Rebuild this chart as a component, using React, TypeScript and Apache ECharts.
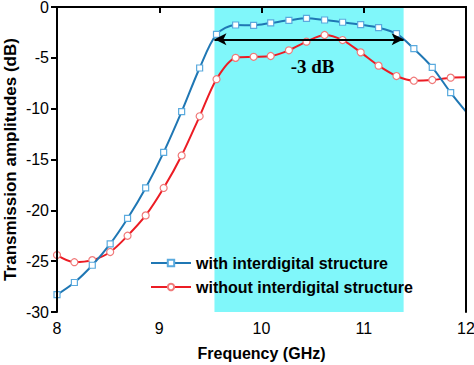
import React, { useEffect, useRef } from "react";
import * as echarts from "echarts";

const freqs = [8.0, 8.17, 8.345, 8.52, 8.69, 8.867, 9.043, 9.219, 9.395, 9.56, 9.747, 9.923, 10.09, 10.268, 10.44, 10.617, 10.793, 10.97, 11.145, 11.32, 11.49, 11.67, 11.85, 12.0];
const withStructure = [-28.3, -27.1, -25.4, -23.3, -20.8, -17.8, -14.3, -10.3, -6.0, -2.7, -1.77, -1.8, -1.57, -1.31, -1.11, -1.28, -1.5, -1.74, -2.03, -2.62, -4.1, -5.93, -8.43, -10.3];
const withoutStructure = [-24.4, -25.1, -24.9, -24.1, -22.5, -20.5, -17.8, -14.6, -10.75, -7.1, -5.0, -4.9, -4.82, -4.26, -3.41, -2.75, -3.25, -4.46, -5.77, -6.79, -7.25, -7.18, -6.95, -6.92];
const seriesNames = ["with interdigital structure", "without interdigital structure"];
const band = [9.54, 11.39];
const arrowLevel = -3.18;
const annotation = { text: "-3 dB", x: 10.5, y: -5.9 };
const xTicks = { min: 8, max: 12, interval: 1 };
const yTicks = { min: -30, max: 0, interval: 5 };

const SANS = "'Liberation Sans', Arial, sans-serif";
const SERIF = "'Liberation Serif', 'Times New Roman', serif";

function toData(ys: number[]) {
  return ys.map((y, i) => {
    const item: any = { value: [freqs[i], y] };
    if (i === ys.length - 1) item.symbol = "none";
    return item;
  });
}

export default function App() {
  const ref = useRef<HTMLDivElement>(null);
  useEffect(() => {
    if (!ref.current) return;
    const chart = echarts.init(ref.current, undefined, { renderer: "svg" });
    const axisLine = { show: true, lineStyle: { color: "#000", width: 2 } };
    chart.setOption({
      animation: false,
      backgroundColor: "#fff",
      grid: { left: 57, right: 8, top: 7, bottom: 53, containLabel: false, outerBoundsMode: "none" },
      legend: {
        orient: "vertical",
        left: 145,
        top: 250,
        itemWidth: 40,
        itemHeight: 8,
        itemGap: 8,
        textStyle: { fontFamily: SANS, fontWeight: "bold", fontSize: 16, color: "#000" },
        data: seriesNames,
      },
      xAxis: [
        {
          type: "value",
          min: xTicks.min,
          max: xTicks.max,
          interval: xTicks.interval,
          z: 5,
          axisLine,
          axisTick: { show: true, inside: false, length: 6, lineStyle: { color: "#000", width: 2 } },
          axisLabel: { color: "#000", fontFamily: SANS, fontSize: 16, margin: 8 },
          splitLine: { show: false },
          name: "Frequency (GHz)",
          nameLocation: "middle",
          nameGap: 33,
          nameMoveOverlap: false,
          nameTextStyle: { fontFamily: SANS, fontWeight: "bold", fontSize: 16, color: "#000" },
        },
        {
          type: "value",
          position: "top",
          min: xTicks.min,
          max: xTicks.max,
          z: 5,
          axisLine,
          axisTick: { show: false },
          axisLabel: { show: false },
          splitLine: { show: false },
        },
      ],
      yAxis: [
        {
          type: "value",
          min: yTicks.min,
          max: yTicks.max,
          interval: yTicks.interval,
          z: 5,
          axisLine,
          axisTick: { show: true, inside: false, length: 6, lineStyle: { color: "#000", width: 2 } },
          axisLabel: { color: "#000", fontFamily: SANS, fontSize: 16, margin: 8 },
          splitLine: { show: false },
          name: "Transmission amplitudes (dB)",
          nameLocation: "middle",
          nameRotate: 90,
          nameGap: 38,
          nameMoveOverlap: false,
          nameTextStyle: { fontFamily: SANS, fontWeight: "bold", fontSize: 17, lineHeight: 17, color: "#000" },
        },
        {
          type: "value",
          position: "right",
          min: yTicks.min,
          max: yTicks.max,
          z: 5,
          axisLine,
          axisTick: { show: false },
          axisLabel: { show: false },
          splitLine: { show: false },
        },
      ],
      series: [
        {
          name: seriesNames[0],
          type: "line",
          smooth: 0.3,
          data: toData(withStructure),
          symbol: "rect",
          symbolSize: 6,
          lineStyle: { color: "#1f77b4", width: 2 },
          itemStyle: { color: "#fff", borderColor: "#5aaade", borderWidth: 1.2 },
          z: 3,
          markArea: {
            silent: true,
            itemStyle: { color: "#80f7fa", opacity: 1 },
            data: [[{ xAxis: band[0] }, { xAxis: band[1] }]],
          },
        },
        {
          name: seriesNames[1],
          type: "line",
          smooth: 0.3,
          data: toData(withoutStructure),
          symbol: "circle",
          symbolSize: 7,
          lineStyle: { color: "#ec1c24", width: 2 },
          itemStyle: { color: "#fff", borderColor: "#f07a7a", borderWidth: 1.2 },
          z: 2,
          markLine: {
            silent: true,
            symbol: ["arrow", "arrow"],
            symbolSize: [9, 12],
            lineStyle: { color: "#000", width: 2, type: "solid" },
            label: { show: false },
            data: [[{ coord: [band[0], arrowLevel] }, { coord: [band[1], arrowLevel] }]],
          },
          markPoint: {
            silent: true,
            symbol: "circle",
            symbolSize: 0,
            label: {
              show: true,
              position: "inside",
              formatter: annotation.text,
              fontFamily: SERIF,
              fontWeight: "bold",
              fontSize: 19,
              color: "#000",
            },
            data: [{ coord: [annotation.x, annotation.y] }],
          },
        },
      ],
    });
    return () => chart.dispose();
  }, []);
  return <div ref={ref} style={{ width: 474, height: 365, position: "absolute", left: 0, top: 0 }} />;
}
